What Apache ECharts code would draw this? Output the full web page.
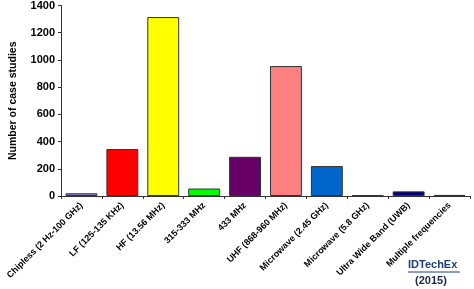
<!DOCTYPE html>
<html><head><meta charset="utf-8">
<script src="https://cdn.jsdelivr.net/npm/echarts@6/dist/echarts.min.js"></script>
<style>html,body{margin:0;padding:0;background:#fff}#c{width:474px;height:289px}</style>
</head><body><div id="c"></div>
<script>
var categories = ["Chipless (2 Hz-100 GHz)","LF (125-135 KHz)","HF (13.56 MHz)","315-333 MHz","433 MHz","UHF (868-960 MHz)","Microwave (2.45 GHz)","Microwave (5.8 GHz)","Ultra Wide Band (UWB)","Multiple frequencies"];
var values = [20, 345, 1315, 55, 288, 955, 220, 5, 34, 8];
var barColors = ["#8c8cd9","#ff0000","#ffff00","#00ff00","#660066","#ff8080","#0066cc","#808080","#000080","#b040b0"];
var yTicks = [0, 200, 400, 600, 800, 1000, 1200, 1400];

var chart = echarts.init(document.getElementById('c'));
chart.setOption({
  animation: false,
  grid: {left: 59, right: 4, top: 5, bottom: 93},
  xAxis: {
    type: 'category', data: categories,
    axisLine: {lineStyle: {color: '#333', width: 1}},
    axisTick: {show: true, alignWithLabel: false, length: 3, lineStyle: {color: '#333'}},
    axisLabel: {rotate: 45, interval: 0, fontFamily: 'Liberation Sans', fontWeight: 'bold', fontSize: 9, color: '#000', margin: 8}
  },
  yAxis: {
    type: 'value', min: yTicks[0], max: yTicks[yTicks.length-1], interval: 200,
    name: 'Number of case studies', nameLocation: 'middle', nameGap: 42,
    nameTextStyle: {fontFamily: 'Liberation Sans', fontWeight: 'bold', fontSize: 10.5, color: '#000'},
    splitLine: {show: false},
    axisLine: {show: true, lineStyle: {color: '#333', width: 1}},
    axisTick: {show: true, length: 3, lineStyle: {color: '#333'}},
    axisLabel: {fontFamily: 'Liberation Sans', fontWeight: 'bold', fontSize: 11, color: '#000', margin: 6,
      formatter: function(v){ return String(v); }}
  },
  series: [{
    type: 'bar', barCategoryGap: '22%',
    data: values.map(function(v, i){ return {value: v, itemStyle: {color: barColors[i]}}; }),
    itemStyle: {borderColor: '#333', borderWidth: 1}
  }],
  graphic: [
    {type: 'text', left: 408, top: 259, style: {text: 'IDTechEx', font: 'bold 11px "Liberation Sans"', fill: '#1f3f7a'}},
    {type: 'line', shape: {x1: 408, y1: 272, x2: 460, y2: 272}, style: {stroke: '#1f3f7a', lineWidth: 1}},
    {type: 'text', left: 415, top: 275, style: {text: '(2015)', font: 'bold 11px "Liberation Sans"', fill: '#1a2a4a'}}
  ]
});
</script></body></html>
